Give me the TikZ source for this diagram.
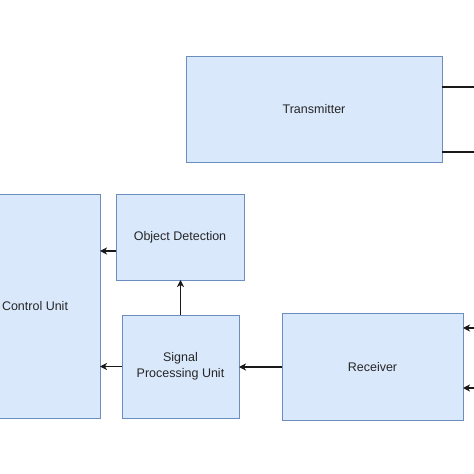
\documentclass[tikz,border=0pt]{standalone}
\usepackage{fontspec}
\setmainfont{Liberation Sans}
\usetikzlibrary{arrows.meta}
\definecolor{boxfill}{HTML}{DAE8FC}
\definecolor{boxline}{HTML}{6C8EBF}
\tikzstyle{block} = [draw=boxline, fill=boxfill, align=center, inner sep=0pt, outer sep=0pt, text=black!85, font=\fontsize{12.5}{16}\selectfont]
\tikzstyle{line} = [draw, line width=1.2pt, color=black!90, -{Stealth[length=7pt, width=7pt, inset=2pt]}]
\tikzstyle{wire} = [draw, line width=1.2pt, color=black!90]
\newcommand{\unit}[5]{
node (#1) [block, minimum width=#2pt, minimum height=#3pt] at (#4) {#5}}

\begin{document}
\begin{tikzpicture}[x=1pt, y=1pt]
		\useasboundingbox (0,0) rectangle (474,474);
		\fill[white] (0,0) rectangle (474,474);

		% Draw diagram elements
		\path \unit{tx}{256}{106}{314,365}{Transmitter};
		\path \unit{cu}{130}{224}{35,168}{Control Unit};
		\path \unit{od}{128}{86}{180,237}{Object Detection};
		\path \unit{spu}{117}{103}{180.5,107.5}{Signal\\Processing Unit};
		\path \unit{rx}{181}{107}{372.5,107}{Receiver};

		% free ends at the right edge
		\coordinate (txa) at (474,387);
		\coordinate (txb) at (474,322);
		\coordinate (rxa) at (474,146);
		\coordinate (rxb) at (474,86);

		% Draw arrows between elements
		\path [wire] (tx.east |- txa) -- (txa);
		\path [wire] (tx.east |- txb) -- (txb);
		\path [line] (rxa) -- (rx.east |- rxa);
		\path [line] (rxb) -- (rx.east |- rxb);
		\path [line] (rx.west) -- (spu.east |- rx.west);
		\path [line] (spu.west) -- (cu.east |- spu.west);
		\path [line] (od.west |- 0,223) -- (cu.east |- 0,223);
		\path [line] (spu.north) -- (spu.north |- od.south);

	\end{tikzpicture}
\end{document}
